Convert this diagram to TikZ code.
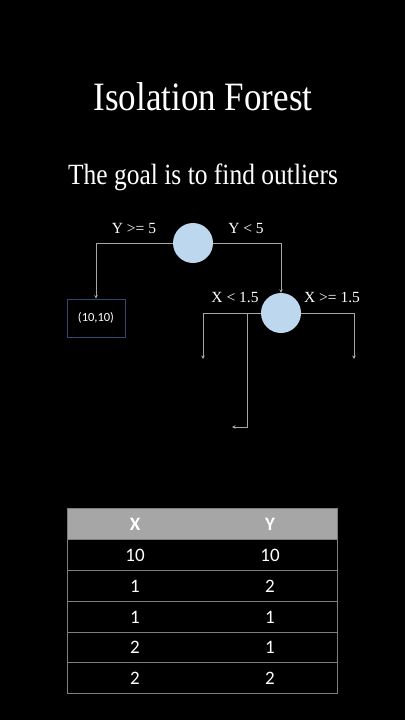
\documentclass[tikz,border=0pt]{standalone}
\usepackage{fontspec}
\setmainfont{Carlito}
\newfontfamily\titlefont{Liberation Serif}
\usetikzlibrary{arrows.meta}
\definecolor{nodeblue}{HTML}{BDD7EE}
\definecolor{conngray}{HTML}{A6A6A6}
\definecolor{hdrgray}{HTML}{A6A6A6}
\definecolor{rulegray}{HTML}{7F7F7F}
\definecolor{boxblue}{HTML}{2E4A70}
\tikzset{
  split/.style={circle, fill=nodeblue, minimum size=40pt, inner sep=0pt},
  conn/.style={draw=conngray, line width=0.9pt, -{Stealth[length=3.5pt,width=3.5pt]}},
  cond/.style={text=white, font=\titlefont\fontsize{15.5}{16}\selectfont, inner sep=0pt},
  leafbox/.style={draw=boxblue, line width=0.9pt, minimum width=58pt, minimum height=38pt, text=white, font=\fontsize{12.5}{13}\selectfont, inner sep=0pt},
  cell/.style={text=white, font=\fontsize{19}{20}\selectfont, inner sep=0pt},
  hcell/.style={text=white, font=\bfseries\fontsize{19}{20}\selectfont, inner sep=0pt}
}
\begin{document}
\begin{tikzpicture}[x=1pt,y=-1pt]
\fill[black] (0,0) rectangle (405,720);
\useasboundingbox (0,0) rectangle (405,720);
% titles
\node[text=white, font=\titlefont\fontsize{35}{36}\selectfont] (title) at (203,97) {\scalebox{1}[1.15]{Isolation Forest}};
\node[text=white, font=\titlefont\fontsize{25.5}{28}\selectfont] (sub) at (203,177) {\scalebox{1}[1.15]{The goal is to find outliers}};
% tree
\node[split] (c1) at (193,243) {};
\node[split] (c2) at (281,313) {};
\node[leafbox] (leaf) at (96,318) {(10,10)};
\coordinate (l1) at (203,359);
\coordinate (r1) at (354,359);
\coordinate (b) at (247,313);
\coordinate (l2) at (232,427);
\draw[conn] (c1.west) -| (leaf.north);
\draw[conn] (c1.east) -| (c2.north);
\draw[conn] (c2.west) -| (l1);
\draw[conn] (c2.east) -| (r1);
\draw[conn] (b) |- (l2);
\node[cond] (ly1) at (134,228) {Y >= 5};
\node[cond] (ly2) at (246,228) {Y < 5};
\node[cond] (lx1) at (235,297) {X < 1.5};
\node[cond] (lx2) at (332,297) {X >= 1.5};
% table
\fill[hdrgray] (67,508) rectangle (337,539);
\draw[rulegray, line width=0.8pt] (67,508) rectangle (337,693);
\foreach \yy in {539,570,601,632,662} {
  \draw[rulegray, line width=0.8pt] (67,\yy) -- (337,\yy);
}
\node[hcell] (hx) at (135,524) {X};
\node[hcell] (hy) at (270,524) {Y};
\node[cell] (r1x) at (135,555) {10};
\node[cell] (r1y) at (270,555) {10};
\node[cell] (r2x) at (135,586) {1};
\node[cell] (r2y) at (270,586) {2};
\node[cell] (r3x) at (135,617) {1};
\node[cell] (r3y) at (270,617) {1};
\node[cell] (r4x) at (135,647) {2};
\node[cell] (r4y) at (270,647) {1};
\node[cell] (r5x) at (135,678) {2};
\node[cell] (r5y) at (270,678) {2};
\end{tikzpicture}
\end{document}
